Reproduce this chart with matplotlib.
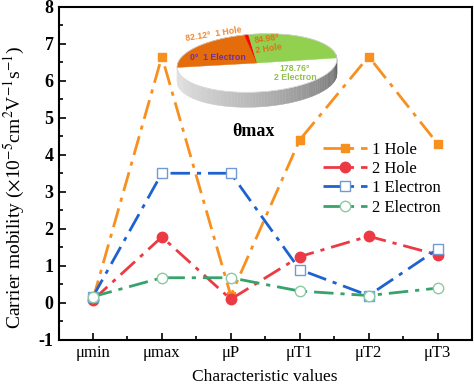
import numpy as np
import matplotlib
matplotlib.use("Agg")
import matplotlib.pyplot as plt
from matplotlib.patches import Polygon

plt.rcParams['font.family'] = ['Liberation Serif', 'DejaVu Serif']
plt.rcParams['mathtext.fontset'] = 'stix'
plt.rcParams['axes.unicode_minus'] = False

categories = ['\u03bcmin', '\u03bcmax', '\u03bcP', '\u03bcT1', '\u03bcT2', '\u03bcT3']
hole1 = [0.1, 6.65, 0.2, 4.4, 6.65, 4.3]
hole2 = [0.08, 1.78, 0.1, 1.25, 1.8, 1.3]
elec1 = [0.17, 3.5, 3.5, 0.9, 0.2, 1.45]
elec2 = [0.17, 0.68, 0.68, 0.32, 0.2, 0.4]

# theta max angles for the inset pie (degrees)
pie_labels = ['1 Electron', '1 Hole', '2 Hole', '2 Electron']
pie_angles = [0.0, 82.12, 84.98, 178.76]

W, H = 474, 389
fig = plt.figure(figsize=(W / 100, H / 100), dpi=100)
ax = fig.add_axes([58.5 / W, 1 - 340 / H, (472 - 58.5) / W, (340 - 6.5) / H])

x = np.arange(len(categories))
ls = (0, (7, 2.5, 1.5, 2.5))
ax.plot(x, hole1, color='#F7901E', ls=ls, lw=2, marker='s', ms=6,
        mfc='#F7901E', mec='#F7901E', label='1 Hole')
ax.plot(x, hole2, color='#EC3A44', ls=ls, lw=2, marker='o', ms=7.5,
        mfc='#EC3A44', mec='#EC3A44', label='2 Hole')
ax.plot(x, elec1, color='#1E62D0', ls=ls, lw=2, marker='s', ms=6.5,
        mfc='white', mec='#6F9AD6', mew=1, label='1 Electron')
ax.plot(x, elec2, color='#35A36A', ls=ls, lw=2, marker='o', ms=7.5,
        mfc='white', mec='#8CC9A3', mew=1, label='2 Electron')

ax.set_xlim(-0.5, 5.5)
ax.set_ylim(-1, 8)
ax.set_xticks(x)
ax.set_xticklabels(categories, fontsize=12)
ax.set_xticks(x[:-1] + 0.5, minor=True)
ax.set_yticks(np.arange(-1, 9))
ax.set_yticks(np.arange(-0.5, 8, 1), minor=True)
for lab in ax.get_yticklabels():
    lab.set_fontweight('bold')
    lab.set_fontsize(13)
ax.tick_params(which='both', direction='in', width=1.2)
ax.tick_params(which='major', length=5)
ax.tick_params(which='minor', length=3)
for s in ax.spines.values():
    s.set_linewidth(1.5)
ax.set_xlabel('Characteristic values', fontsize=12.5, labelpad=6)
ax.set_ylabel(r'Carrier mobility ($\times$10$^{-5}$cm$^{2}$V$^{-1}$s$^{-1}$)', fontsize=14)
ax.yaxis.set_label_coords(-0.075, 0.456)

ax.legend(loc='upper left', bbox_to_anchor=(0.612, 0.63), frameon=False,
          fontsize=12, handlelength=2.6, labelspacing=0.2, handletextpad=0.3,
          borderpad=0.2)

# inset 3D-looking pie, drawn in pixel units
x0, x1, y0, y1 = 170, 345, 25, 118
ins = fig.add_axes([x0 / W, 1 - y1 / H, (x1 - x0) / W, (y1 - y0) / H])
ins.set_xlim(x0, x1)
ins.set_ylim(y1, y0)
ins.axis('off')
cx, cy, a, b, t = 257, 63, 80, 29, 15
rot = np.radians(3.2)

def pt(phi, dz=0.0):
    X, Y = a * np.cos(phi), b * np.sin(phi)
    Xr = X * np.cos(rot) - Y * np.sin(rot)
    Yr = X * np.sin(rot) + Y * np.cos(rot)
    return (cx + Xr, cy - Yr + dz)

# side wall with grey gradient
n = 90
th = np.radians(np.linspace(172, 368, n + 1))
for i in range(n):
    p = [pt(th[i]), pt(th[i + 1]), pt(th[i + 1], t), pt(th[i], t)]
    g = 0.9 - 0.52 * (i / n) ** 1.4
    ins.add_patch(Polygon(p, closed=True, fc=(g, g, g), ec=(g, g, g), lw=0.3))

def sector(p0, p1, color):
    ph = np.radians(np.linspace(p0, p1, 60))
    pts = [(cx, cy)] + [pt(q) for q in ph]
    ins.add_patch(Polygon(pts, closed=True, fc=color, ec=color, lw=0.3))

b1 = 180 - pie_angles[1]
b2 = 180 - pie_angles[2]
b3 = 180 - pie_angles[3]
sector(180, 360 + b3, 'white')
sector(b1, 180 - pie_angles[0], '#E46C0A')
sector(b2, b1, '#FF0000')
sector(b3, b2, '#92D050')
ph = np.linspace(0, 2 * np.pi, 200)
ins.plot(*zip(*[pt(q) for q in ph]), color='#d0d0d0', lw=0.5)

tf = dict(family=['Liberation Sans', 'DejaVu Sans'], fontweight='bold', fontsize=6.3,
          ha='center', va='center')
ins.text(214, 34, '%.2f\u00b0  %s' % (pie_angles[1], pie_labels[1]), color='#F08A30', rotation=9, **tf)
ins.text(218, 58, '%g\u00b0  %s' % (pie_angles[0], pie_labels[0]), color='#7030A0', **tf)
ins.text(268, 44, '%.2f\u00b0\n%s' % (pie_angles[2], pie_labels[2]), color='#E0701A', rotation=8,
         linespacing=1.1, **tf)
ins.text(295, 73, '%.2f\u00b0\n%s' % (pie_angles[3], pie_labels[3]), color='#92C050',
         linespacing=1.1, **tf)
fig.text(253 / W, 1 - 131 / H, '\u03b8max', fontsize=13, fontweight='bold', ha='center', va='center')

fig.savefig('out.png', dpi=100)
